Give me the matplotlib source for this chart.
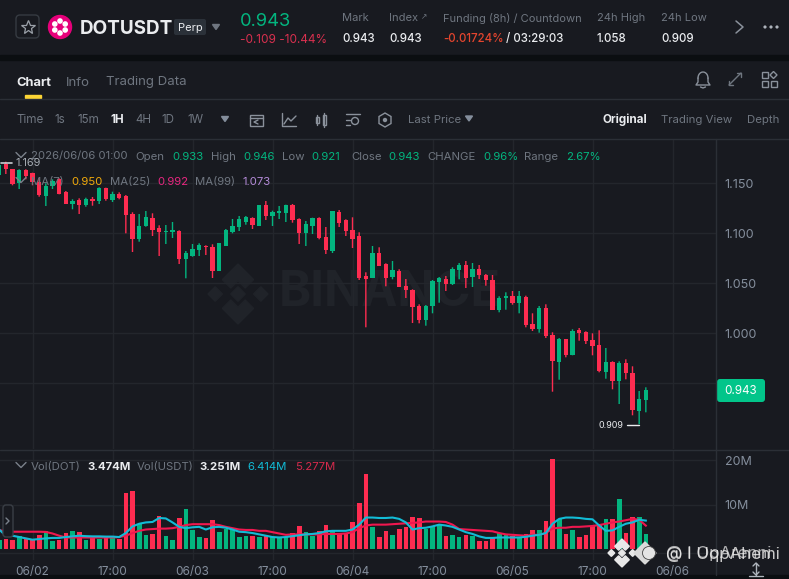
import matplotlib
matplotlib.use("Agg")
import matplotlib.pyplot as plt
from matplotlib.patches import FancyBboxPatch, Circle, Polygon, Rectangle
import numpy as np

plt.rcParams['font.family'] = ['Inter', 'DejaVu Sans']

first_index = -5
opens = [1.158,1.169,1.164,1.1506,1.1633,1.160,1.1516,1.1376,1.1476,1.154,1.1416,1.1290,1.133,1.1283,1.134,1.132,1.145,1.1333,1.139,
1.1376,1.1196,1.0946,1.1076,1.1156,1.105,1.101,1.101,1.1026,1.0746,1.0773,1.0836,1.0876,1.0866,1.0626,1.0876,1.1013,1.1066,1.1116,
1.1156,1.1076,1.128,1.1173,1.1206,1.1206,1.128,1.114,1.1006,1.1076,1.115,1.096,1.0823,1.121,1.113,1.1036,1.097,1.0576,1.0556,1.0806,
1.0696,1.0563,1.0623,1.047,1.0436,1.0276,1.0136,1.0276,1.0516,1.0546,1.0493,1.0636,1.0686,1.0566,1.0643,1.0586,1.0533,1.0236,1.0356,
1.0373,1.0306,1.0366,1.0093,1.0043,1.0256,0.9983,0.9716,0.9940,0.9783,1.0033,1.0013,0.9933,0.9883,0.9616,0.9713,0.9526,0.9703,0.9600,0.9226,0.933]
closes = [1.168,1.164,1.149,1.1633,1.1576,1.151,1.138,1.1476,1.1526,1.139,1.1296,1.132,1.1286,1.1346,1.132,1.145,1.1343,1.139,1.1356,
1.1186,1.0946,1.1076,1.116,1.1036,1.1013,1.1026,1.103,1.0746,1.0800,1.0846,1.088,1.086,1.0626,1.090,1.103,1.107,1.114,1.116,
1.1083,1.128,1.1176,1.1216,1.1226,1.128,1.1136,1.1006,1.109,1.115,1.0953,1.0836,1.122,1.1106,1.1026,1.0946,1.0556,1.0546,1.0806,1.0676,
1.0556,1.0636,1.0466,1.0433,1.0266,1.0136,1.0276,1.0526,1.0553,1.0496,1.0646,1.0686,1.0556,1.0643,1.0586,1.0536,1.0236,1.0356,1.0376,
1.0306,1.0373,1.0086,1.0043,1.0256,0.9976,0.9726,0.9946,0.9783,1.0026,1.0006,0.9923,0.9876,0.9623,0.9713,0.9526,0.9706,0.9606,0.9236,0.9343,0.943]
highs = [1.170,1.1716,1.164,1.164,1.164,1.1606,1.155,1.150,1.154,1.155,1.1423,1.134,1.135,1.1356,1.1363,1.146,1.1456,1.1416,1.141,
1.1383,1.121,1.1193,1.1223,1.120,1.108,1.1083,1.1113,1.103,1.0823,1.0893,1.090,1.088,1.089,1.0903,1.1043,1.1143,1.1173,1.1173,
1.116,1.1283,1.1323,1.1226,1.1273,1.1286,1.1293,1.115,1.1123,1.1156,1.116,1.1063,1.1223,1.1233,1.114,1.116,1.101,1.061,1.0873,1.086,
1.0700,1.0723,1.064,1.0543,1.0440,1.029,1.0283,1.0533,1.0563,1.0573,1.066,1.0703,1.0723,1.0703,1.0683,1.0593,1.0583,1.037,1.041,
1.0423,1.0423,1.0376,1.020,1.0273,1.029,1.001,0.9953,0.9943,1.004,1.0053,1.002,1.000,1.003,0.9853,0.972,0.972,0.974,0.967,0.9423,0.946]
lows = [1.155,1.1593,1.148,1.1443,1.154,1.148,1.1366,1.1273,1.1443,1.139,1.1293,1.124,1.1193,1.1266,1.1276,1.1293,1.1326,1.1313,1.134,
1.100,1.0813,1.0916,1.1066,1.0973,1.0773,1.0893,1.0953,1.0693,1.055,1.0766,1.0773,1.0783,1.0553,1.0623,1.0873,1.100,1.1023,1.1086,
1.1043,1.1073,1.1133,1.1073,1.1143,1.1113,1.1106,1.0893,1.0873,1.0993,1.094,1.0793,1.0803,1.1063,1.0973,1.0853,1.0533,1.0060,1.0553,1.0673,
1.047,1.054,1.0463,1.0353,1.0103,1.010,1.0076,1.020,1.0306,1.0423,1.0483,1.054,1.0453,1.0463,1.0543,1.0476,1.0233,1.021,1.0236,
1.0286,1.020,1.006,1.0023,1.0006,0.9953,0.9416,0.9536,0.976,0.978,0.9926,0.9893,0.978,0.961,0.9546,0.944,0.9293,0.9540,0.918,0.909,0.921]
volumes = [2.1,2.25,2.1,3.0,2.5,2.1,3.2,4.1,1.7,2.1,3.6,4.1,3.8,2.1,2.6,2.2,2.7,2.6,2.3,12.6,13.2,5.7,3.2,3.3,7.4,3.0,2.1,7.1,9.1,4.4,2.8,2.5,6.6,3.8,4.5,4.4,2.6,3.0,
3.0,2.8,3.0,2.6,2.6,2.6,3.6,5.2,3.9,3.0,4.1,5.5,4.1,3.3,3.6,6.1,10.4,16.9,5.0,2.8,4.1,3.2,4.6,4.9,7.3,7.1,4.6,5.3,5.5,3.0,3.2,2.6,3.2,3.0,1.7,1.7,2.6,3.6,3.2,3.0,2.6,
3.4,4.2,4.2,6.4,20.4,6.8,3.4,4.3,2.8,3.2,5.1,5.7,6.8,6.8,11.2,3.5,7.3,7.3,3.474]
vol_ma_fast = [4.4,3.0,3.0,2.7,2.4,2.1,2.25,2.4,2.5,2.5,2.7,2.85,3.0,2.9,2.85,2.85,2.8,2.8,2.7,3.6,5.1,5.7,6.0,6.1,7.0,6.9,6.0,5.0,4.7,4.9,5.0,4.4,4.9,5.0,4.8,4.4,3.9,3.8,3.6,3.3,3.0,
2.7,2.6,2.7,2.9,3.1,3.3,3.4,3.6,4.0,4.1,4.1,4.1,4.4,5.5,7.1,7.1,7.0,7.0,7.1,6.8,6.0,4.4,4.7,4.8,5.1,5.5,5.3,5.0,4.4,3.8,3.4,2.85,2.5,2.5,2.6,2.6,2.6,2.6,2.75,
3.0,3.2,3.6,5.7,6.8,7.1,7.1,7.0,6.8,6.7,5.3,4.1,4.2,5.0,5.7,6.0,6.6,6.414]
vol_ma_slow = [4.2,4.1,3.9,3.9,3.9,3.9,3.9,3.85,3.5,3.0,2.6,2.6,2.6,2.6,2.6,2.6,2.6,2.6,2.7,3.0,3.6,4.1,4.4,4.5,4.6,4.6,4.7,5.0,5.4,5.6,5.6,5.6,5.6,5.4,5.0,4.7,4.4,4.3,4.3,4.1,4.1,
3.8,3.5,3.2,3.3,3.3,3.3,3.3,3.3,3.4,3.4,3.4,3.5,3.8,4.7,5.3,5.5,5.5,5.5,5.6,5.7,5.8,5.9,6.0,6.2,6.2,6.2,6.1,5.5,4.5,4.4,4.3,4.2,4.1,4.0,3.6,3.3,3.2,3.1,3.0,
3.2,3.2,3.6,4.6,4.8,4.8,5.0,5.0,5.1,5.2,5.4,5.7,6.0,6.2,6.5,6.8,6.6,5.277]
price_ticks = [1.150, 1.100, 1.050, 1.000, 0.950]
vol_ticks = [20, 10]
vol_labels = ['20M', '10M']
time_ticks = [0, 12, 24, 36, 48, 60, 72, 84, 96]
time_labels = ['06/02', '17:00', '06/03', '17:00', '06/04', '17:00', '06/05', '17:00', '06/06']

W, H = 789, 579
BG = '#181A20'; DARK = '#0B0E11'; GRID = '#23262C'; LINE = '#2B2F36'
UP = '#03B57F'; DOWN = '#FE2C50'; MUTED = '#6F7680'; LIGHT = '#EAECEF'; AXTXT = '#848E9C'

fig = plt.figure(figsize=(W/100, H/100), dpi=100, facecolor=BG)
def axpx(l, t, r, b, **kw):
    return fig.add_axes([l/W, 1-b/H, (r-l)/W, (b-t)/H], **kw)

def binance_logo(a, cx, cy, s, color, **kw):
    for dx in (-0.76, 0, 0.76):
        r = 0.24
        a.add_patch(Polygon([(cx+(dx-r)*s, cy), (cx+dx*s, cy-r*s), (cx+(dx+r)*s, cy), (cx+dx*s, cy+r*s)], color=color, **kw))
    top = [(0, -1), (0.52, -0.48), (0.24, -0.2), (0, -0.44), (-0.24, -0.2), (-0.52, -0.48)]
    a.add_patch(Polygon([(cx+x*s, cy+y*s) for x, y in top], color=color, **kw))
    a.add_patch(Polygon([(cx+x*s, cy-y*s) for x, y in top], color=color, **kw))

bg = axpx(0, 0, W, H, zorder=0)
bg.set_xlim(0, W); bg.set_ylim(H, 0); bg.axis('off')
bg.add_patch(Rectangle((0, 55), W, 5, color=DARK))
bg.add_patch(Rectangle((0, 575), W, 4, color=DARK))
WM = '#202329'
binance_logo(bg, 238, 294, 30, WM)
bg.text(279, 293, 'BINANCE', color=WM, fontsize=35, fontweight='bold', va='center', ha='left')

k2x = lambda px: (px-32.5)/(80/12)
ax = axpx(0, 139, 716.5, 449, zorder=1)
ax.patch.set_alpha(0)
idx = np.arange(first_index, first_index+len(opens))
o, h, l, c = map(np.array, (opens, highs, lows, closes))
cols = [UP if cc >= oo else DOWN for oo, cc in zip(o, c)]
ax.vlines(idx, l, h, colors=cols, linewidth=1.0, snap=False, zorder=3)
ax.bar(idx, np.maximum(np.abs(c-o), 0.001), bottom=np.minimum(o, c), width=0.68, color=cols, linewidth=0, zorder=4)
ax.set_xlim(k2x(0), k2x(716.5))
ax.set_ylim(1+(333.3-449)/1000, 1+(333.3-139)/1000)
ax.yaxis.tick_right()
ax.set_yticks(price_ticks, [f'{p:.3f}' for p in price_ticks])
ax.set_xticks(time_ticks, [])
ax.tick_params(axis='y', length=0, pad=6, labelcolor=AXTXT, labelsize=9)
ax.tick_params(axis='x', length=0)
ax.grid(True, color=GRID, linewidth=1, zorder=0)
for s in ax.spines.values(): s.set_visible(False)

vx = axpx(0, 451, 716.5, 560, zorder=1)
vx.patch.set_alpha(0)
vx.bar(idx, volumes, width=0.7, color=cols, linewidth=0, zorder=3)
vx.plot(idx, vol_ma_slow, color='#F0174F', linewidth=1.5, zorder=4, solid_joinstyle='round')
vx.plot(idx, vol_ma_fast, color='#12BCD6', linewidth=1.5, zorder=5, solid_joinstyle='round')
vx.set_xlim(k2x(0), k2x(716.5))
vx.set_ylim((549-560)/4.43, (549-451)/4.43)
vx.yaxis.tick_right()
vx.set_yticks(vol_ticks + [-0.9], vol_labels + [''])
vx.set_xticks(time_ticks, time_labels)
vx.tick_params(axis='y', length=0, pad=6, labelcolor=AXTXT, labelsize=9)
vx.tick_params(axis='x', length=0, pad=4, labelcolor=AXTXT, labelsize=8.5)
vx.grid(True, color=GRID, linewidth=1, zorder=0)
for s in vx.spines.values(): s.set_visible(False)

ui = axpx(0, 0, W, H, zorder=5)
ui.set_xlim(0, W); ui.set_ylim(H, 0); ui.axis('off'); ui.patch.set_alpha(0)
def t(x, y, s, color=MUTED, size=8.2, weight='normal', ha='left', **kw):
    return ui.text(x, y, s, color=color, fontsize=size, fontweight=weight, ha=ha, va='center', **kw)
def ln(xs, ys, color='#8A919B', lw=1.0):
    ui.plot(xs, ys, color=color, linewidth=lw, solid_capstyle='round')
def rbox(x0, y0, x1, y1, fc='none', ec='none', r=3, lw=1):
    ui.add_patch(FancyBboxPatch((x0+r, y0+r), x1-x0-2*r, y1-y0-2*r, boxstyle=f'round,pad={r}', fc=fc, ec=ec, lw=lw, mutation_aspect=1))
def tri(cx, cy, w=4.5, hh=3.5, color='#848E9C'):
    ui.add_patch(Polygon([(cx-w, cy-hh/1.2), (cx+w, cy-hh/1.2), (cx, cy+hh/1.2)], color=color))

ln([0, W], [98.5, 98.5], LINE, 1); ln([0, W], [138.5, 138.5], LINE, 1)
ln([0, W], [450, 450], LINE, 1); ln([716.5, 716.5], [139, 575], LINE, 1)

rbox(16, 15, 39, 38, ec='#363B42', r=4)
ui.plot([27.7], [27], marker='*', ms=10.5, mfc='none', mec='#9AA0A8', mew=0.9)
ui.add_patch(Circle((60, 27), 11.5, color='#E6007A'))
for a in np.arange(0, 360, 60):
    ui.add_patch(Circle((60+6*np.sin(np.radians(a)), 27-6*np.cos(np.radians(a))), 2.1, color='white'))
t(80, 29.5, 'DOTUSDT', LIGHT, 13.6, 'bold')
rbox(174, 19, 206, 35, fc='#2B3139', r=2)
t(190, 28, 'Perp', LIGHT, 8, ha='center')
tri(216, 27, 3.5, 3, '#6F7680')
t(240, 21.5, '0.943', UP, 13.2)
t(240, 40, '-0.109 -10.44%', '#D9304F', 8.5)
for x, s in [(342, 'Mark'), (389, 'Index'), (443, 'Funding (8h) / Countdown'), (597, '24h High'), (661, '24h Low')]:
    t(x, 18, s, MUTED, 8.0)
t(421, 17, '↗', MUTED, 5.5, family=['DejaVu Sans'])
for x, s in [(342, '0.943'), (389, '0.943'), (597, '1.058'), (661, '0.909')]:
    t(x, 39, s, LIGHT, 8.3, 'medium')
t(443, 39, '-0.01724%', '#E5452E', 8.3, 'medium')
t(506, 39, '/ 03:29:03', LIGHT, 8.3, 'medium')
ln([736, 743, 736], [21, 27, 33], '#8A919B', 1.1)
for x in [765, 771, 777]:
    ui.add_patch(Circle((x, 27), 0.9, color='#AEB4BC'))

t(16, 82.5, 'Chart', LIGHT, 9.3, 'bold')
t(66, 82.5, 'Info', MUTED, 9.5)
t(106, 82.5, 'Trading Data', MUTED, 9.5)
ui.add_patch(Rectangle((25, 95), 16, 3, color='#FCD535'))
ba = np.radians(np.arange(180, 361, 15))
ui.plot(703+5*np.cos(ba), 78+6*np.sin(ba), color='#8A919B', lw=1)
ln([698, 698, 696, 710, 708, 708], [78, 82, 85, 85, 82, 78], '#8A919B')
ln([700.5, 703, 705.5], [87, 88, 87], '#8A919B')
ln([729, 741], [85, 73], '#6F7680'); ln([737, 741, 741], [73, 73, 77], '#6F7680'); ln([729, 729, 733], [81, 85, 85], '#6F7680')
ui.add_patch(Rectangle((762, 72), 6, 6, fc='none', ec='#8A919B'))
ui.add_patch(Polygon([(770, 75), (773.5, 71.5), (777, 75), (773.5, 78.5)], fc='none', ec='#8A919B'))
ui.add_patch(Rectangle((762, 81), 6, 6, fc='none', ec='#8A919B'))
ui.add_patch(Rectangle((771, 81), 6, 6, fc='none', ec='#8A919B'))

for x, s in [(17, 'Time'), (54, '1s'), (77, '15m'), (135, '4H'), (161, '1D'), (187, '1W')]:
    t(x, 120, s, MUTED, 8.4)
t(110, 120, '1H', LIGHT, 8.4, 'bold')
tri(225, 119, 3.5, 3)
ic = '#8A919B'
ui.add_patch(Rectangle((250.5, 114.5), 13, 11, fc='none', ec=ic))
ln([250.5, 263.5], [118, 118], ic); ln([258, 254, 258], [120, 122, 124], ic)
ln([282.5, 282.5, 296], [113, 126, 126], ic); ln([284, 288, 291, 296], [124, 118, 121, 116], ic)
for x, y0, y1 in [(317.5, 116, 124), (324.5, 114, 126)]:
    ui.add_patch(Rectangle((x-1.5, y0+1), 3, y1-y0-2, fc='none', ec=ic)); ln([x, x], [y0-1, y1+1], ic)
ln([346, 360], [114, 114], ic); ln([346, 350], [120, 120], ic); ln([346, 350], [125, 125], ic)
ui.add_patch(Circle((355, 121), 3.5, fc='none', ec=ic))
ui.add_patch(Polygon([(385, 113), (391, 116.5), (391, 123.5), (385, 127), (379, 123.5), (379, 116.5)], fc='none', ec=ic))
ui.add_patch(Circle((385, 120), 1.5, color=ic))
t(408, 120, 'Last Price', MUTED, 8.2)
tri(469, 118.5, 3.5, 3)
t(603, 120, 'Original', LIGHT, 8.4, 'bold')
t(661, 120, 'Trading View', MUTED, 8.2)
t(747, 120, 'Depth', MUTED, 8.2)

def chev(y): ln([16, 21, 26], [y-2.5, y+2.5, y-2.5], '#7A818B', 1)
chev(155)
for x, s, col in [(31, '2026/06/06 01:00', MUTED), (135, 'Open', MUTED), (172, '0.933', UP), (211, 'High', MUTED), (243, '0.946', UP),
                  (282, 'Low', MUTED), (311, '0.921', UP), (351, 'Close', MUTED), (388, '0.943', UP), (427, 'CHANGE', MUTED),
                  (483.5, '0.96%', UP), (524, 'Range', MUTED), (566, '2.67%', UP)]:
    t(x, 156.5, s, col, 8.2)
chev(180)
for x, s, col in [(31, 'MA(7)', MUTED), (71, '0.950', '#F0A90B'), (110, 'MA(25)', MUTED), (157, '0.992', '#E6267F'),
                  (195, 'MA(99)', MUTED), (243, '1.073', '#B48BD8')]:
    t(x, 182, s, col, 8.2)
chev(465)
t(31, 467, 'Vol(DOT)', MUTED, 8.2); t(87, 467, '3.474M', LIGHT, 8.2, 'bold')
t(137, 467, 'Vol(USDT)', MUTED, 8.2); t(199, 467, '3.251M', LIGHT, 8.2, 'bold')
t(247, 467, '6.414M', '#12BCD6', 8.2); t(295, 467, '5.277M', '#D42A4C', 8.2)

ln([1, 12], [163, 163], '#C9CDD2', 1.2)
t(15, 162.5, '1.169', '#A6ACB4', 7.8)
t(599, 425, '0.909', LIGHT, 6.5)
ln([627, 639], [425, 425], LIGHT, 1)
rbox(717, 379, 765, 402, fc='#02C58A', r=3)
t(741, 390.5, '0.943', 'white', 8.4, ha='center')
rbox(3, 505, 13, 537, ec='#3A3F46', fc=BG, r=3)
ln([6, 9, 6], [518, 521, 524], '#7A818B', 1)
ln([756, 756], [563, 575], '#AEB4BC'); ln([753, 756, 759], [566, 563, 566], '#AEB4BC'); ln([753, 756, 759], [572, 575, 572], '#AEB4BC')
ln([749, 763], [576, 576], '#AEB4BC')

binance_logo(ui, 622, 553, 14, '#E8E8E8')
ui.add_patch(Polygon([(634, 553), (645, 542), (656, 553), (645, 564)], color='#D9D9D9'))
ui.add_patch(Circle((649, 553), 6.5, fc='#E4E4E4', ec='#444', lw=0.6))
t(666, 554, '@ I UqpAhemi', '#C8C8C8', 12.2)
t(666, 553.5, '@ I OpArenni', '#EDEDED', 12.2, alpha=0.7)

fig.savefig('out.png', dpi=100, facecolor=BG)
